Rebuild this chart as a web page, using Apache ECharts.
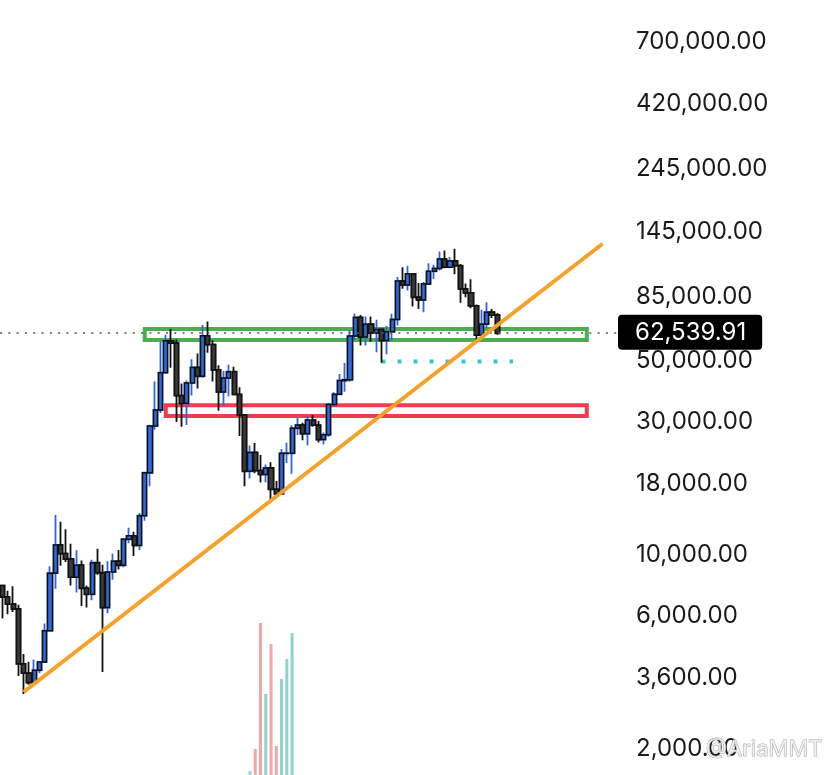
<!DOCTYPE html>
<html>
<head>
<meta charset="utf-8">
<script src="https://cdn.jsdelivr.net/npm/echarts@6/dist/echarts.min.js"></script>
<style>
html,body{margin:0;padding:0;background:#ffffff;}
#chart{width:829px;height:775px;}
</style>
</head>
<body>
<div id="chart"></div>
<script>
// ---------- categories (monthly) ----------
const months = [
 '2018-08','2018-09','2018-10','2018-11','2018-12',
 '2019-01','2019-02','2019-03','2019-04','2019-05','2019-06','2019-07','2019-08','2019-09','2019-10','2019-11','2019-12',
 '2020-01','2020-02','2020-03','2020-04','2020-05','2020-06','2020-07','2020-08','2020-09','2020-10','2020-11','2020-12',
 '2021-01','2021-02','2021-03','2021-04','2021-05','2021-06','2021-07','2021-08','2021-09','2021-10','2021-11','2021-12',
 '2022-01','2022-02','2022-03','2022-04','2022-05','2022-06','2022-07','2022-08','2022-09','2022-10','2022-11','2022-12',
 '2023-01','2023-02','2023-03','2023-04','2023-05','2023-06','2023-07','2023-08','2023-09','2023-10','2023-11','2023-12',
 '2024-01','2024-02','2024-03','2024-04','2024-05','2024-06','2024-07','2024-08','2024-09','2024-10','2024-11','2024-12',
 '2025-01','2025-02','2025-03','2025-04','2025-05','2025-06','2025-07','2025-08','2025-09','2025-10','2025-11','2025-12',
 '2026-01','2026-02','2026-03','2026-04','2026-05','2026-06','2026-07','2026-08','2026-09','2026-10','2026-11','2026-12',
 '2027-01','2027-02','2027-03','2027-04','2027-05','2027-06','2027-07','2027-08','2027-09','2027-10','2027-11','2027-12',
 '2028-01','2028-02','2028-03','2028-04','2028-05'
];

// ---------- OHLC (monthly candles, 2018-08 .. 2026-06) ----------
const openPrices = [
 7730,7030,6630,6370,4040,
 3740,3460,3830,4100,5320,8570,10820,10080,9630,8290,9150,7560,
 7190,9350,8600,6440,8660,9460,9140,11350,11680,10780,13800,19700,
 28990,33110,45140,58790,57720,37330,35040,41460,47130,43790,61300,57000,
 46200,38480,43190,45540,37710,31790,19940,23300,20050,19430,20490,17170,
 16550,23130,23150,28480,29250,27220,30480,29230,25940,26970,34660,37720,
 42280,42580,61130,71330,60640,67490,62680,64620,58970,63330,70220,96450,
 93430,102410,84370,82550,94200,104640,107140,115760,108250,114050,109600,90400,
 87500,78600,61600,67500,74500,72800
];
const highPrices = [
 7760,7410,7680,6590,4380,
 4110,4190,4130,5640,9070,13880,13130,12330,10930,10370,9510,7740,
 9570,10500,9190,9460,10070,10380,11440,12480,12080,14100,19860,29300,
 41950,58350,61790,64860,59500,41300,42320,50500,52920,67000,69000,59100,
 47990,45820,48190,47440,39980,31990,24670,25200,22800,21090,21480,18390,
 23960,25250,29190,31000,29820,31430,31800,30230,27490,35200,38420,44700,
 48970,64000,73800,72800,71950,71970,70000,65000,66500,73600,99800,108300,
 109600,102500,95000,95800,111900,110500,123200,124400,117900,126200,111200,94600,
 97900,79500,76000,81000,76500,74000
];
const lowPrices = [
 5880,6100,6210,3650,3150,
 3400,3390,3740,4080,5280,7530,9110,9400,7730,7300,6520,6440,
 6850,8450,3780,6150,8120,8830,8990,10990,9880,10380,13220,17620,
 28130,32300,45000,47040,30000,28810,29280,37330,39600,43290,53260,42000,
 32930,34320,37160,37580,26700,17600,18780,19600,18150,18200,15480,16260,
 16500,21350,19550,26940,25810,24750,28860,25300,24900,26560,34100,37600,
 38550,41880,59300,56550,56600,58400,53500,49000,52600,58900,66800,90500,
 89200,78200,76600,74500,93400,98200,105300,107300,107300,102000,80600,84400,
 77000,59200,60000,65500,71000,61800
];
const closePrices = [
 7030,6630,6370,4040,3740,
 3460,3830,4100,5320,8570,10820,10080,9630,8290,9150,7560,7190,
 9350,8600,6440,8660,9460,9140,11350,11680,10780,13800,19700,28990,
 33110,45140,58790,57720,37330,35040,41460,47130,43790,61300,57000,46200,
 38480,43190,45540,37710,31790,19940,23300,20050,19430,20490,17170,16550,
 23130,23150,28480,29250,27220,30480,29230,25940,26970,34660,37720,42280,
 42580,61130,71330,60640,67490,62680,64620,58970,63330,70220,96450,93430,
 102410,84370,82550,94200,104640,107140,115760,108250,114050,109600,90400,87500,
 78600,61600,67500,74500,72800,62539.91
];

// ---------- volume (only the visible bars) ----------
const volumeMonths = ['2022-07','2022-08','2022-09','2022-10','2022-11','2022-12','2023-01','2023-02','2023-03'];
const volumeValues = [4, 26, 152, 81, 131, 29, 96, 116, 142];

// ---------- y-axis tick labels ----------
const yTickPrices = [2000, 3600, 6000, 10000, 18000, 30000, 50000, 85000, 145000, 245000, 420000, 700000];

// ---------- drawings ----------
const trendMonths = ['2018-12', '2028-02'];
const trendPrices = [3200, 131500];
const supportMonths = ['2024-08', '2026-09'];
const supportPrices = [49500, 49500];
const greenZoneMonths = ['2020-11', '2027-11'];
const greenZonePrices = [59200, 64900];
const redZoneMonths = ['2021-03', '2027-11'];
const redZonePrices = [31500, 34500];

// ---------- helpers ----------
const toLog = v => Math.log10(v);
const fmt = v => v.toLocaleString('en-US', {minimumFractionDigits: 2, maximumFractionDigits: 2});
const FONT = 'Inter';
const lastPrice = closePrices[closePrices.length - 1];

const candleLog = closePrices.map((c, i) => [toLog(openPrices[i]), toLog(c), toLog(lowPrices[i]), toLog(highPrices[i])]);
const bodyLog = closePrices.map((c, i) => {
  const o = openPrices[i];
  return [toLog(o), toLog(c), toLog(Math.min(o, c)), toLog(Math.max(o, c))];
});

const volumeData = volumeMonths.map((m, k) => {
  const i = months.indexOf(m);
  const up = closePrices[i] >= openPrices[i];
  return {value: [m, volumeValues[k]], itemStyle: {color: up ? '#8fd3cc' : '#f4a6a6'}};
});

const chart = echarts.init(document.getElementById('chart'), null, {renderer: 'canvas'});
chart.setOption({
  animation: false,
  backgroundColor: '#ffffff',
  grid: [
    {left: 0, right: 208, top: 0, bottom: 0},
    {left: 0, right: 208, top: 575, bottom: 0}
  ],
  xAxis: [
    {type: 'category', data: months, gridIndex: 0, boundaryGap: true, show: false},
    {type: 'category', data: months, gridIndex: 1, boundaryGap: true, show: false}
  ],
  yAxis: [
    {
      type: 'value', gridIndex: 0, position: 'right',
      min: toLog(1608), max: toLog(991500),
      splitLine: {show: false}, axisLine: {show: false}, axisTick: {show: false},
      axisLabel: {
        customValues: yTickPrices.map(toLog),
        formatter: v => fmt(Math.round(Math.pow(10, v))),
        margin: 15, align: 'left',
        color: '#1a1a1a', fontSize: 24, fontFamily: FONT
      }
    },
    {type: 'value', gridIndex: 1, min: 0, max: 200, show: false}
  ],
  series: [
    {
      name: 'zones', type: 'line', xAxisIndex: 0, yAxisIndex: 0, z: 1,
      data: supportMonths.map((m, i) => [m, toLog(supportPrices[i])]),
      symbol: 'none',
      lineStyle: {color: '#38c5d6', width: 4, type: [4, 12], cap: 'butt'},
      markArea: {
        silent: true,
        data: [
          [{xAxis: greenZoneMonths[0], yAxis: toLog(greenZonePrices[1]),
            itemStyle: {color: 'rgba(0,0,0,0)', borderColor: '#4bad4f', borderWidth: 4}},
           {xAxis: greenZoneMonths[1], yAxis: toLog(greenZonePrices[0])}],
          [{xAxis: redZoneMonths[0], yAxis: toLog(redZonePrices[1]),
            itemStyle: {color: 'rgba(0,0,0,0)', borderColor: '#f03b50', borderWidth: 4}},
           {xAxis: redZoneMonths[1], yAxis: toLog(redZonePrices[0])}]
        ]
      }
    },
    {
      name: 'wicks', type: 'candlestick', xAxisIndex: 0, yAxisIndex: 0, z: 3,
      data: candleLog, barWidth: '88%',
      itemStyle: {color: '#2f6be0', color0: '#3b3b3b', borderColor: '#2f66dc', borderColor0: '#111111', borderWidth: 1.8}
    },
    {
      name: 'bodies', type: 'candlestick', xAxisIndex: 0, yAxisIndex: 0, z: 4,
      data: bodyLog, barWidth: '88%',
      itemStyle: {color: '#2f6be0', color0: '#3b3b3b', borderColor: '#111111', borderColor0: '#111111', borderWidth: 1.5},
      markLine: {
        silent: true, symbol: ['none', 'none'], animation: false,
        data: [{yAxis: toLog(lastPrice)}],
        lineStyle: {color: '#555555', type: [2, 6.3], width: 1.6},
        label: {
          show: true, position: 'end', distance: -3,
          formatter: () => fmt(lastPrice),
          backgroundColor: '#000000', color: '#ffffff',
          fontSize: 24, fontFamily: FONT,
          padding: [6, 16, 5, 17], borderRadius: 4
        }
      }
    },
    {
      name: 'trend', type: 'line', xAxisIndex: 0, yAxisIndex: 0, z: 5,
      data: trendMonths.map((m, i) => [m, toLog(trendPrices[i])]),
      symbol: 'none',
      lineStyle: {color: '#f7a128', width: 4}
    },
    {
      name: 'volume', type: 'bar', xAxisIndex: 1, yAxisIndex: 1, z: 2,
      data: volumeData, barWidth: 3
    }
  ],
  graphic: [
    {
      type: 'text', right: 6, bottom: 14, z: 100,
      style: {
        text: '@AriaMMT', fontSize: 22, fontFamily: FONT,
        fill: 'rgba(245,245,245,0.85)', stroke: '#a8a8a8', lineWidth: 1
      }
    }
  ]
});
</script>
</body>
</html>
